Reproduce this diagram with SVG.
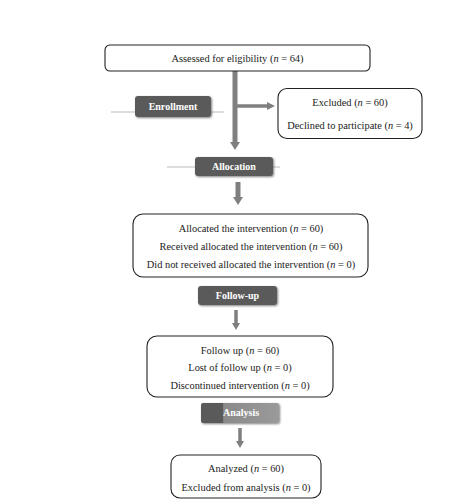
<svg xmlns="http://www.w3.org/2000/svg" width="474" height="504" viewBox="0 0 474 504">
<defs>
<style>
.box{fill:#fff;stroke:#222;stroke-width:1.1}
.t{font-family:"Liberation Serif","Times New Roman",serif;font-size:10.4px;fill:#222;text-anchor:middle}
.lab{font-family:"Liberation Serif","Times New Roman",serif;font-size:10px;font-weight:bold;fill:#fff;text-anchor:middle}
.stage{fill:#5a5a5a}
.thin{stroke:#bbb;stroke-width:1}
.shaft{stroke:#7f7f7f;fill:none}
.head{fill:#7f7f7f}
</style>
<filter id="sh" x="-20%" y="-30%" width="140%" height="160%">
<feGaussianBlur in="SourceAlpha" stdDeviation="1.2"/>
<feOffset dx="0.5" dy="1" result="b"/>
<feComponentTransfer><feFuncA type="linear" slope="0.5"/></feComponentTransfer>
<feMerge><feMergeNode/><feMergeNode in="SourceGraphic"/></feMerge>
</filter>
<linearGradient id="ag" x1="0" x2="1" y1="0" y2="0">
<stop offset="0" stop-color="#5a5a5a"/>
<stop offset="0.28" stop-color="#5a5a5a"/>
<stop offset="0.29" stop-color="#8a8a8a"/>
<stop offset="1" stop-color="#9a9a9a"/>
</linearGradient>
</defs>
<rect width="474" height="504" fill="#fff"/>

<g id="connectors">
<line class="shaft" x1="235" y1="71" x2="235" y2="143" stroke-width="5"/>
<polygon class="head" points="230,142 240,142 235,150"/>
<line class="shaft" x1="237" y1="106" x2="268" y2="106" stroke-width="3.5"/>
<polygon class="head" points="267,102 267,110 275,106"/>
<line class="shaft" x1="238" y1="182" x2="238" y2="198" stroke-width="5"/>
<polygon class="head" points="233,197 243,197 238,205"/>
<line class="shaft" x1="236" y1="310" x2="236" y2="324" stroke-width="3.5"/>
<polygon class="head" points="232,323 240,323 236,330"/>
<line class="shaft" x1="240" y1="428" x2="240" y2="442" stroke-width="3.5"/>
<polygon class="head" points="236,441 244,441 240,448"/>
</g>

<g id="stage-enrollment">
<line class="thin" x1="111" y1="112" x2="224" y2="112"/>
<rect class="stage" x="135" y="96" width="76" height="21" rx="3" filter="url(#sh)"/>
<text class="lab" x="173" y="109.5">Enrollment</text>
</g>

<g id="stage-allocation">
<line class="thin" x1="167" y1="167" x2="280" y2="167"/>
<rect class="stage" x="195" y="157" width="78" height="19" rx="3" filter="url(#sh)"/>
<text class="lab" x="234" y="169.5">Allocation</text>
</g>

<g id="stage-followup">
<rect class="stage" x="198" y="286" width="79" height="19" rx="3" filter="url(#sh)"/>
<text class="lab" x="237.5" y="298.5">Follow-up</text>
</g>

<g id="stage-analysis">
<rect x="201" y="403" width="78" height="20" rx="2" fill="url(#ag)" filter="url(#sh)"/>
<text class="lab" x="241" y="416">Analysis</text>
</g>

<g id="assessed">
<rect class="box" x="105" y="45" width="265" height="26" rx="5"/>
<text class="t" x="237.5" y="61.5">Assessed for eligibility (<tspan font-style="italic">n</tspan> = 64)</text>
</g>

<g id="excluded">
<rect class="box" x="278" y="88.5" width="144" height="50" rx="9"/>
<text class="t" x="350" y="106">Excluded (<tspan font-style="italic">n</tspan> = 60)</text>
<text class="t" x="350" y="129">Declined to participate (<tspan font-style="italic">n</tspan> = 4)</text>
</g>

<g id="allocated">
<rect class="box" x="133" y="214" width="235" height="63" rx="10"/>
<text class="t" x="251" y="232">Allocated the intervention (<tspan font-style="italic">n</tspan> = 60)</text>
<text class="t" x="251" y="249.5">Received allocated the intervention (<tspan font-style="italic">n</tspan> = 60)</text>
<text class="t" x="251" y="268">Did not received allocated the intervention (<tspan font-style="italic">n</tspan> = 0)</text>
</g>

<g id="followup">
<rect class="box" x="147" y="336" width="186" height="61" rx="10"/>
<text class="t" x="240" y="353.5">Follow up (<tspan font-style="italic">n</tspan> = 60)</text>
<text class="t" x="240" y="370.5">Lost of follow up (<tspan font-style="italic">n</tspan> = 0)</text>
<text class="t" x="240" y="388.5">Discontinued intervention (<tspan font-style="italic">n</tspan> = 0)</text>
</g>

<g id="analyzed">
<rect class="box" x="171" y="455" width="150" height="43" rx="9"/>
<text class="t" x="246" y="471.5">Analyzed (<tspan font-style="italic">n</tspan> = 60)</text>
<text class="t" x="246" y="490.5">Excluded from analysis (<tspan font-style="italic">n</tspan> = 0)</text>
</g>
</svg>
